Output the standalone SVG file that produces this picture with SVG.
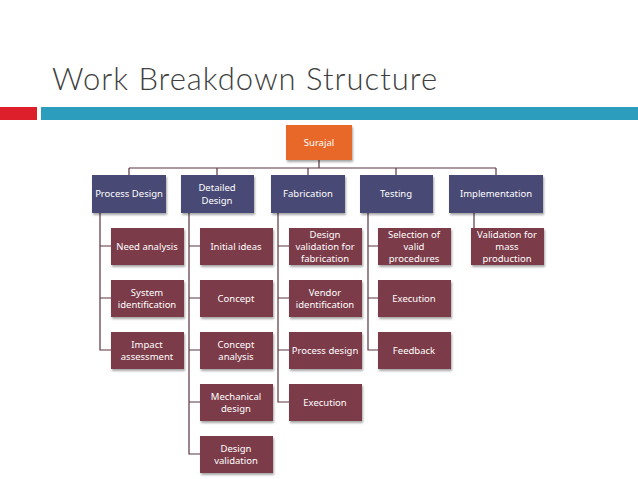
<svg xmlns="http://www.w3.org/2000/svg" width="638" height="479" viewBox="0 0 638 479">
<defs>
<filter id="sh" x="-10%" y="-10%" width="130%" height="140%"><feDropShadow dx="1" dy="2" stdDeviation="1.2" flood-color="#000" flood-opacity="0.35"/></filter>
</defs>
<style>
.t{font-family:"Noto Sans","DejaVu Sans",sans-serif;font-size:9.5px;fill:#fff;text-anchor:middle}
.l1{fill:#4a4a74;filter:url(#sh)}
.c{fill:#7b3a4a;filter:url(#sh)}
.ln{stroke:#5a3540;stroke-width:1.2;fill:none}
</style>
<rect width="638" height="479" fill="#fff"/>
<text x="52" y="90" font-family="Lato,'Open Sans',sans-serif" font-weight="300" font-size="31" letter-spacing="1" fill="#404040">Work Breakdown Structure</text>
<rect x="0" y="107" width="37" height="13" fill="#dd1f2b"/>
<rect x="41" y="107" width="597" height="13" fill="#2d9dbd"/>
<g id="connectors">
<path class="ln" d="M319 160V168M129 168H496M129 168V175M217 168V175M308 168V175M396 168V175M496 168V175"/>
<path class="ln" d="M100 213V350H111M100 246H111M100 298H111"/>
<path class="ln" d="M189 213V454H200M189 246H200M189 298H200M189 350H200M189 402H200"/>
<path class="ln" d="M278 213V402H289M278 246H289M278 298H289M278 350H289"/>
<path class="ln" d="M368 213V350H378M368 246H378M368 298H378"/>
<path class="ln" d="M474 213V228"/>
</g>
<g id="root"><rect x="286" y="125" width="66" height="35" fill="#e8672a" filter="url(#sh)"/><text class="t" x="319" y="146">Surajal</text></g>
<g id="process"><rect class="l1" x="92" y="175" width="74" height="38"/><text class="t" x="129" y="197">Process Design</text></g>
<g id="detailed"><rect class="l1" x="181" y="175" width="73" height="38"/><text class="t" x="217" y="191">Detailed</text><text class="t" x="217" y="204">Design</text></g>
<g id="fabrication"><rect class="l1" x="271" y="175" width="74" height="38"/><text class="t" x="308" y="197">Fabrication</text></g>
<g id="testing"><rect class="l1" x="360" y="175" width="73" height="38"/><text class="t" x="396" y="197">Testing</text></g>
<g id="implementation"><rect class="l1" x="449" y="175" width="94" height="38"/><text class="t" x="496" y="197">Implementation</text></g>

<g id="need"><rect class="c" x="111" y="228" width="73" height="37"/><text class="t" x="147" y="250">Need analysis</text></g>
<g id="sysid"><rect class="c" x="111" y="280" width="73" height="37"/><text class="t" x="147" y="296">System</text><text class="t" x="147" y="308">identification</text></g>
<g id="impact"><rect class="c" x="111" y="332" width="73" height="37"/><text class="t" x="147" y="348">Impact</text><text class="t" x="147" y="360">assessment</text></g>

<g id="ideas"><rect class="c" x="200" y="228" width="73" height="37"/><text class="t" x="236" y="250">Initial ideas</text></g>
<g id="concept"><rect class="c" x="200" y="280" width="73" height="37"/><text class="t" x="236" y="302">Concept</text></g>
<g id="canalysis"><rect class="c" x="200" y="332" width="73" height="37"/><text class="t" x="236" y="348">Concept</text><text class="t" x="236" y="360">analysis</text></g>
<g id="mech"><rect class="c" x="200" y="384" width="73" height="37"/><text class="t" x="236" y="400">Mechanical</text><text class="t" x="236" y="412">design</text></g>
<g id="dval"><rect class="c" x="200" y="436" width="73" height="37"/><text class="t" x="236" y="452">Design</text><text class="t" x="236" y="464">validation</text></g>

<g id="dvf"><rect class="c" x="289" y="228" width="73" height="37"/><text class="t" x="325" y="238">Design</text><text class="t" x="325" y="250">validation for</text><text class="t" x="325" y="262">fabrication</text></g>
<g id="vendor"><rect class="c" x="289" y="280" width="73" height="37"/><text class="t" x="325" y="296">Vendor</text><text class="t" x="325" y="308">identification</text></g>
<g id="pdesign"><rect class="c" x="289" y="332" width="73" height="37"/><text class="t" x="325" y="354">Process design</text></g>
<g id="exec1"><rect class="c" x="289" y="384" width="73" height="37"/><text class="t" x="325" y="406">Execution</text></g>

<g id="select"><rect class="c" x="378" y="228" width="73" height="37"/><text class="t" x="414" y="238">Selection of</text><text class="t" x="414" y="250">valid</text><text class="t" x="414" y="262">procedures</text></g>
<g id="exec2"><rect class="c" x="378" y="280" width="73" height="37"/><text class="t" x="414" y="302">Execution</text></g>
<g id="feedback"><rect class="c" x="378" y="332" width="73" height="37"/><text class="t" x="414" y="354">Feedback</text></g>

<g id="vmass"><rect class="c" x="471" y="228" width="73" height="37"/><text class="t" x="507" y="238">Validation for</text><text class="t" x="507" y="250">mass</text><text class="t" x="507" y="262">production</text></g>
</svg>
